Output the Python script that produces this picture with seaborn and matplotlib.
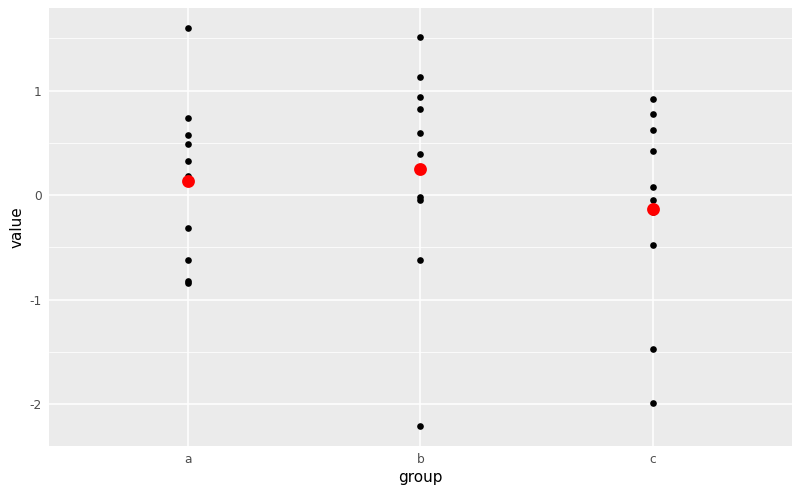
import numpy as np
import pandas as pd
import matplotlib
matplotlib.use("Agg")
import matplotlib.pyplot as plt
import seaborn as sns

# values
groups = ["a", "b", "c"]
a_vals = [1.60, 0.74, 0.57, 0.49, 0.33, 0.18, -0.31, -0.62, -0.82, -0.84]
b_vals = [1.51, 1.13, 0.94, 0.82, 0.59, 0.39, -0.02, -0.05, -0.62, -2.21]
c_vals = [0.92, 0.78, 0.62, 0.42, 0.08, -0.05, -0.16, -0.48, -1.47, -1.99]

df = pd.DataFrame({
    "group": ["a"] * len(a_vals) + ["b"] * len(b_vals) + ["c"] * len(c_vals),
    "value": a_vals + b_vals + c_vals,
})

sns.set_theme(style="darkgrid", rc={
    "axes.facecolor": "#EBEBEB",
    "grid.color": "white",
    "axes.edgecolor": "none",
})
plt.rcParams["font.family"] = ["DejaVu Sans"]

fig, ax = plt.subplots(figsize=(8, 4.94), dpi=100)
fig.subplots_adjust(left=0.061, right=0.99, top=0.984, bottom=0.097)

sns.stripplot(data=df, x="group", y="value", order=groups, jitter=False,
              color="black", size=4.8, linewidth=0, ax=ax, zorder=3)
sns.pointplot(data=df, x="group", y="value", order=groups, errorbar=None,
              color="red", linestyle="none", markers="o", markersize=7.2,
              ax=ax, zorder=4)

ax.set_xlim(-0.6, 2.6)
ax.set_ylim(-2.40, 1.79)
ax.set_yticks([-2, -1, 0, 1])
ax.set_yticklabels(["-2", "-1", "0", "1"])
ax.set_yticks([-1.5, -0.5, 0.5, 1.5], minor=True)
ax.grid(True, which="major", color="white", linewidth=1.1)
ax.grid(True, which="minor", axis="y", color="white", linewidth=0.55)
ax.grid(False, which="minor", axis="x")
ax.set_axisbelow(True)

ax.tick_params(axis="both", which="major", length=3, width=0.8, color="#333333",
               labelcolor="#4D4D4D", labelsize=8.8, pad=2)
ax.tick_params(axis="both", which="minor", length=0)
ax.set_xlabel("group", fontsize=11, color="black", labelpad=3)
ax.set_ylabel("value", fontsize=11, color="black", labelpad=4)
for s in ax.spines.values():
    s.set_visible(False)

fig.savefig("out.png", dpi=100)
